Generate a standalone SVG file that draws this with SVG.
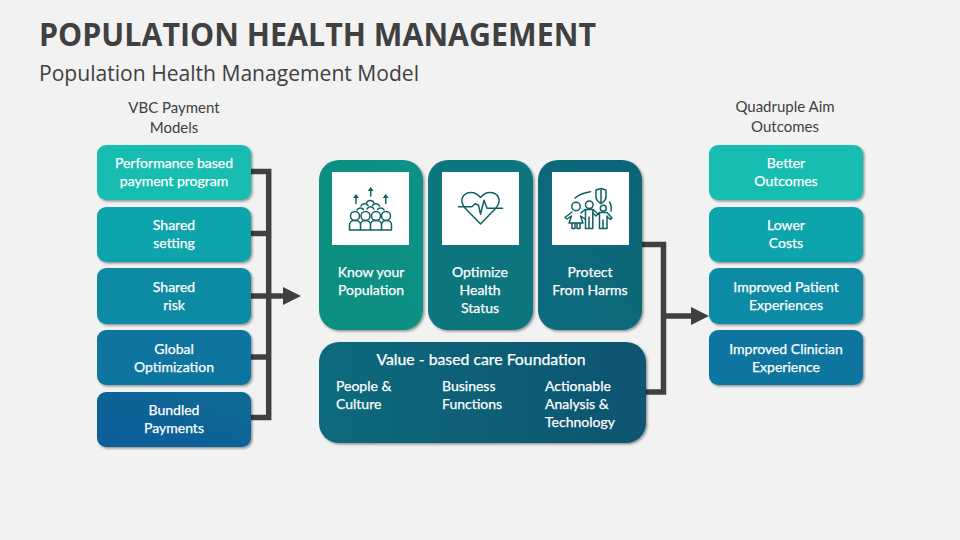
<svg xmlns="http://www.w3.org/2000/svg" width="960" height="540" viewBox="0 0 960 540">
<defs>
<filter id="sh" x="-10%" y="-10%" width="125%" height="125%"><feDropShadow dx="1.5" dy="1.5" stdDeviation="1.2" flood-color="#000" flood-opacity=".4"/></filter>
<linearGradient id="gA" x1="0" y1="0" x2="1" y2="-.4"><stop offset="0" stop-color="#0e8f80"/><stop offset="1" stop-color="#119088"/></linearGradient>
<linearGradient id="gC" x1="0" y1="1" x2="1" y2="0"><stop offset="0" stop-color="#0e6c7c"/><stop offset="1" stop-color="#0e6478"/></linearGradient>
<linearGradient id="gD" x1="0" y1="0" x2="1" y2="0"><stop offset="0" stop-color="#0e6a7c"/><stop offset="1" stop-color="#0c5470"/></linearGradient>
<linearGradient id="gE" x1="0" y1="1" x2="1" y2="0"><stop offset="0" stop-color="#0e5c9a"/><stop offset="1" stop-color="#0e6a94"/></linearGradient>
<marker id="ah" markerUnits="userSpaceOnUse" markerWidth="18" markerHeight="20" refX="8" refY="9" orient="auto"><path d="M0 0L18 9L0 18Z" fill="#404040"/></marker>
</defs>
<style>
.t{font-family:"Lato","Liberation Sans",sans-serif;font-size:14px;fill:#fff;stroke:#fff;stroke-width:.25px;text-anchor:middle}
.l{font-family:"Lato","Liberation Sans",sans-serif;font-size:15px;fill:#404040;text-anchor:middle}
.w{text-anchor:start}
.box{filter:url(#sh)}
.c{fill:none;stroke:#404040;stroke-width:5.5}
.i{fill:none;stroke:#0f5f63;stroke-width:1.5;stroke-linecap:round;stroke-linejoin:round}
.ia{fill:#0f5f63}
</style>
<rect width="960" height="540" fill="#f2f2f2"/>
<text x="39" y="46" font-family="Open Sans, Liberation Sans, sans-serif" font-weight="700" font-size="33" textLength="557" lengthAdjust="spacingAndGlyphs" fill="#404040">POPULATION HEALTH MANAGEMENT</text>
<text x="39" y="81" font-family="Open Sans, Liberation Sans, sans-serif" font-size="21" textLength="380" lengthAdjust="spacingAndGlyphs" fill="#404040">Population Health Management Model</text>

<g id="connectors">
<path class="c" d="M251 171.500H268.700V417.500H251M251 233.500H268.700M251 357H268.700"/>
<path class="c" d="M251 296H291" marker-end="url(#ah)"/>
<path class="c" d="M642 244.500H663.500V392H646"/>
<path class="c" d="M663.500 316H699" marker-end="url(#ah)"/>
</g>

<text class="l" x="174" y="113">VBC Payment</text><text class="l" x="174" y="133">Models</text>
<text class="l" x="785" y="112">Quadruple Aim</text><text class="l" x="785" y="132">Outcomes</text>

<g id="left1"><rect class="box" x="97" y="145" width="154" height="55" rx="9" fill="#13bdb0"/><text class="t" x="174" y="168">Performance based</text><text class="t" x="174" y="186">payment program</text></g>
<g id="left2"><rect class="box" x="97" y="207" width="154" height="55" rx="9" fill="#11a4ab"/><text class="t" x="174" y="230">Shared</text><text class="t" x="174" y="248">setting</text></g>
<g id="left3"><rect class="box" x="97" y="268" width="154" height="56" rx="9" fill="#108ba5"/><text class="t" x="174" y="292">Shared</text><text class="t" x="174" y="310">risk</text></g>
<g id="left4"><rect class="box" x="97" y="330" width="154" height="55" rx="9" fill="#0e759f"/><text class="t" x="174" y="354">Global</text><text class="t" x="174" y="372">Optimization</text></g>
<g id="left5"><rect class="box" x="97" y="392" width="154" height="55" rx="9" fill="url(#gE)"/><text class="t" x="174" y="415">Bundled</text><text class="t" x="174" y="433">Payments</text></g>

<g id="right1"><rect class="box" x="709" y="145" width="154" height="55" rx="9" fill="#13bdb0"/><text class="t" x="786" y="168">Better</text><text class="t" x="786" y="186">Outcomes</text></g>
<g id="right2"><rect class="box" x="709" y="207" width="154" height="55" rx="9" fill="#11a4ab"/><text class="t" x="786" y="230">Lower</text><text class="t" x="786" y="248">Costs</text></g>
<g id="right3"><rect class="box" x="709" y="268" width="154" height="56" rx="9" fill="#108ba5"/><text class="t" x="786" y="292">Improved Patient</text><text class="t" x="786" y="310">Experiences</text></g>
<g id="right4"><rect class="box" x="709" y="330" width="154" height="55" rx="9" fill="#0e759f"/><text class="t" x="786" y="354">Improved Clinician</text><text class="t" x="786" y="372">Experience</text></g>

<g id="pillar1"><rect class="box" x="319" y="160" width="104" height="170" rx="20" fill="url(#gA)"/><rect x="332" y="172" width="77" height="73" fill="#fff"/>
<g class="i">
<path d="M349.500 230V225a4.500 4.500 0 0 1 4.500-4.500h2a4.500 4.500 0 0 1 4.500 4.500v5M360.500 225a4.500 4.500 0 0 1 4.500-4.500h1a4.500 4.500 0 0 1 4.500 4.500v5M370.500 225a4.500 4.500 0 0 1 4.500-4.500h2a4.500 4.500 0 0 1 4.500 4.500v5M381.500 225a4.500 4.500 0 0 1 4.500-4.500h1a4.500 4.500 0 0 1 4.500 4.500v5H349.500"/>
<circle cx="355" cy="216" r="4.500"/><circle cx="365.500" cy="216" r="4.500"/><circle cx="376" cy="216" r="4.500"/><circle cx="386" cy="216" r="4.500"/>
<path d="M357 210a3.800 3.800 0 0 1 6.500-.5M367 209a3.800 3.800 0 0 1 7 0M377.500 209.500a3.800 3.800 0 0 1 6.500.5"/>
<path d="M361 206a4 4 0 0 1 7-.5M372.500 205.500a4 4 0 0 1 7 .5M366.500 203a4 4 0 0 1 7.500 0"/>
<path d="M356 203.500V197M370.700 196V190M385.700 203.500V197"/>
</g>
<path class="ia" d="M353 198l3-4 3 4ZM367.700 191l3-4 3 4ZM382.700 198l3-4 3 4Z"/>
<text class="t" x="371" y="277">Know your</text><text class="t" x="371" y="295">Population</text></g>

<g id="pillar2"><rect class="box" x="428" y="160" width="105" height="170" rx="20" fill="#10747e"/><rect x="442" y="172" width="77" height="73" fill="#fff"/>
<path class="i" d="M458.500 206.700H472l3-3 3.500 1.500 2 9 3.500-14 3 8H502.500"/>
<path class="i" d="M480.500 224L465 208C458 199 464 192.500 471 192.500c4 0 7 2 9.500 5 2.500-3 5.500-5 9.500-5 7 0 13 6.500 6 15.500Z"/>
<text class="t" x="480" y="277">Optimize</text><text class="t" x="480" y="295">Health</text><text class="t" x="480" y="313">Status</text></g>

<g id="pillar3"><rect class="box" x="538" y="160" width="104" height="170" rx="20" fill="url(#gC)"/><rect x="552" y="172" width="77" height="73" fill="#fff"/>
<g class="i">
<path d="M596 190L601 188.500L606 190V197C606 199.500 603.500 202 601 203.500C598.500 202 596 199.500 596 197Z"/><path d="M601 190V202"/>
<path d="M575 198C579 194.500 585 192.500 590.500 191.700M609.500 202C611.500 205 611.500 208 611 211"/>
<circle cx="576" cy="206.500" r="4.200"/><circle cx="589.300" cy="204.800" r="3.800"/><circle cx="603.300" cy="208.300" r="3"/>
<path d="M572 212L565 217.500L567 219L571.500 216L569 223H583L580.500 216L585 219"/>
<path d="M572 223V228.500H575V223M577 223V228.500H580V223"/>
<path d="M581 213L585 209.500H593L598 214M585.500 210V228.500H589V217V228.500H592.800V210"/>
<path d="M592.800 213L596 216L599.500 212.500H607L612 218L610.500 219.500L607 216.500M599.500 213V228.500H603V220V228.500H607V216"/>
</g>
<text class="t" x="590" y="277">Protect</text><text class="t" x="590" y="295">From Harms</text></g>

<g id="foundation"><rect class="box" x="319" y="342" width="327" height="101" rx="20" fill="url(#gD)"/>
<text class="t" x="481" y="365" style="font-size:15.8px">Value - based care Foundation</text>
<text class="t w" x="336" y="391">People &amp;</text><text class="t w" x="336" y="409">Culture</text>
<text class="t w" x="442" y="391">Business</text><text class="t w" x="442" y="409">Functions</text>
<text class="t w" x="545" y="391">Actionable</text><text class="t w" x="545" y="409">Analysis &amp;</text><text class="t w" x="545" y="427">Technology</text></g>
</svg>
